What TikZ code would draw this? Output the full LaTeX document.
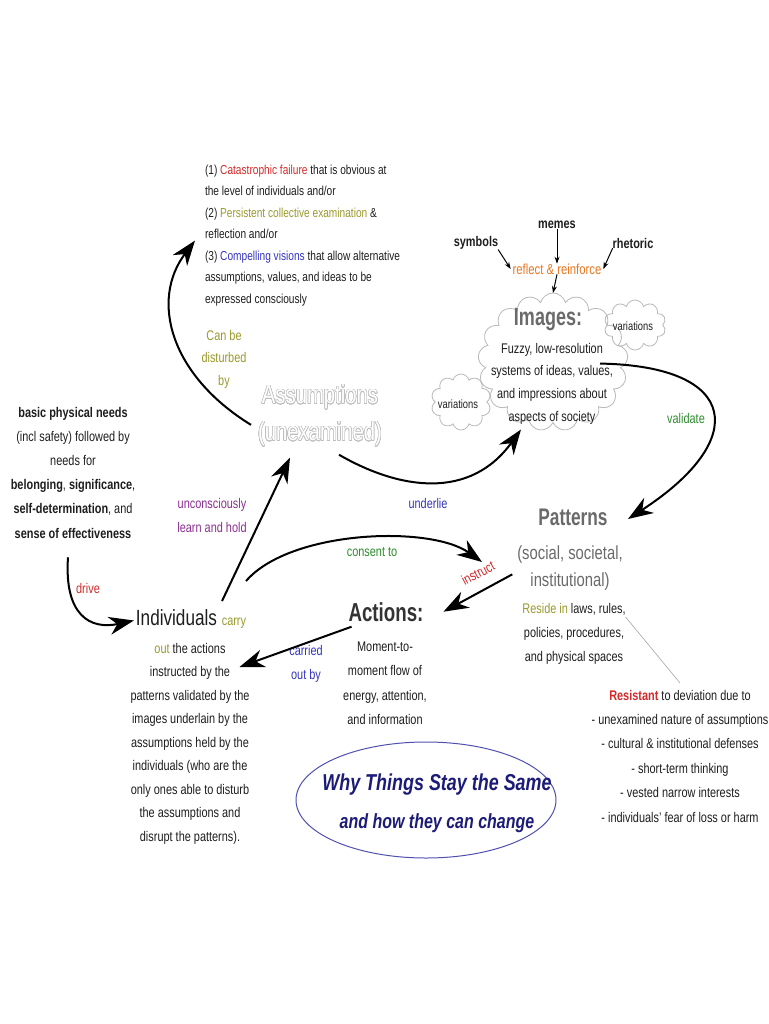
\documentclass[tikz,border=0pt]{standalone}
\usepackage{fontspec}
\setmainfont[FakeStretch=0.78]{Liberation Sans}
\newfontfamily\hfont[FakeStretch=0.72]{Liberation Sans}
\usepackage[copies]{contour}
\contourlength{0.5pt}
\contournumber{20}
\usetikzlibrary{arrows.meta,shapes.symbols,shapes.geometric}
\definecolor{tx}{HTML}{1E1E1E}
\definecolor{cred}{HTML}{D42A2A}
\definecolor{colive}{HTML}{9A9A2E}
\definecolor{cblue}{HTML}{3535C0}
\definecolor{cgreen}{HTML}{2E8B2E}
\definecolor{cpurple}{HTML}{8A3090}
\definecolor{corange}{HTML}{E87722}
\definecolor{hgray}{HTML}{6A6A6A}
\definecolor{navy}{HTML}{1C1C78}
\definecolor{ellc}{HTML}{5050B0}
\begin{document}
\begin{tikzpicture}[x=1pt,y=-1pt,
 every node/.style={inner sep=0pt,outer sep=0pt,text=tx},
 body/.style={font=\fontsize{14}{23.5}\selectfont,align=center},
 lab/.style={font=\fontsize{14}{24}\selectfont,align=center},
 bigarrow/.style={draw=black,line width=2pt,-{Stealth[length=25pt,width=18pt,inset=8pt]}},
 thinarrow/.style={draw=black,line width=1pt,-{Stealth[length=7pt,width=5pt]}},
 cloudshape/.style={cloud,cloud ignores aspect,draw=gray!55,line width=0.8pt},
 thinline/.style={draw=gray!70,line width=0.6pt},
]
\useasboundingbox (0,0) rectangle (768,1024);
\fill[white] (0,0) rectangle (768,1024);

% top text block
\node[anchor=north west,align=left,font=\fontsize{13}{21.5}\selectfont] (change) at (205,165)
 {(1) \textcolor{cred}{Catastrophic failure} that is obvious at\\
  the level of individuals and/or\\
  (2) \textcolor{colive}{Persistent collective examination} \&\\
  reflection and/or\\
  (3) \textcolor{cblue}{Compelling visions} that allow alternative\\
  assumptions, values, and ideas to be\\
  expressed consciously};

\node[font=\fontsize{14}{22.5}\selectfont,align=center,text=colive,anchor=north] (disturb) at (224,330) {Can be\\disturbed\\by};

\node[anchor=north,align=center,font=\fontsize{26}{37}\selectfont,text=white] (assump) at (320,385)
 {\contour{gray!50}{Assumptions}\\\contour{gray!50}{(unexamined)}};

% clouds
\node[cloudshape,cloud puffs=10,minimum width=62,minimum height=50] (varR) at (635,325) {};
\node[cloudshape,cloud puffs=10,minimum width=60,minimum height=56] (varL) at (461,402) {};
\node[cloudshape,cloud puffs=17,minimum width=150,minimum height=138] (images) at (553,362) {};
\node[font=\fontsize{12}{12}\selectfont] (varRt) at (633,326) {variations};
\node[font=\fontsize{12}{12}\selectfont] (varLt) at (458,404) {variations};
\node[anchor=base,font=\hfont\bfseries\fontsize{25}{25}\selectfont,text=hgray] (imgtitle) at (548,325) {Images:};
\node[font=\fontsize{14}{22.7}\selectfont,align=center,anchor=north] (imgtext) at (552,343)
 {Fuzzy, low-resolution\\systems of ideas, values,\\and impressions about\\aspects of society};

\node[font=\bfseries\fontsize{14}{14}\selectfont] (symbols) at (476,243) {symbols};
\node[font=\bfseries\fontsize{14}{14}\selectfont] (memes) at (557,225) {memes};
\node[font=\bfseries\fontsize{14}{14}\selectfont] (rhetoric) at (633,243) {rhetoric};
\node[font=\fontsize{14.5}{14.5}\selectfont,text=corange] (reflect) at (557,269) {reflect \& reinforce};

\draw[thinarrow] (symbols.south east) -- ([xshift=-2]reflect.west);
\draw[thinarrow] (memes.south) -- (reflect.north);
\draw[thinarrow] (rhetoric.south west) -- ([xshift=2]reflect.east);
\draw[thinarrow] (reflect.south) -- (images.north);

% patterns
\node[anchor=base,font=\hfont\bfseries\fontsize{24}{24}\selectfont,text=hgray] (patterns) at (573,525) {Patterns};
\node[anchor=north,align=center,font=\fontsize{19}{27}\selectfont,text=hgray] (patsub) at (570,546) {(social, societal,\\institutional)};
\node[body,anchor=north,font=\fontsize{14}{24}\selectfont] (reside) at (574,603)
 {\textcolor{colive}{Reside in} laws, rules,\\policies, procedures,\\and physical spaces};

\node[anchor=north,align=center,font=\fontsize{14}{24.4}\selectfont] (resist) at (680,690)
 {\textcolor{cred}{\bfseries Resistant} to deviation due to\\
  - unexamined nature of assumptions\\
  - cultural \& institutional defenses\\
  - short-term thinking\\
  - vested narrow interests\\
  - individuals' fear of loss or harm};
\draw[thinline] ([yshift=-14]reside.north east) -- ([yshift=7]resist.north);

% actions
\node[anchor=base,font=\hfont\bfseries\fontsize{26}{26}\selectfont,text=black!80] (actions) at (386,621) {Actions:};
\node[anchor=north,align=center,font=\fontsize{14}{24.3}\selectfont] (actbody) at (385,642)
 {Moment-to-\\moment flow of\\energy, attention,\\and information};

% individuals
\node[anchor=base] (indiv) at (191,625) {\fontsize{22}{22}\selectfont Individuals \textcolor{colive}{\fontsize{14}{14}\selectfont carry}};
\node[body,anchor=north] (indbody) at (190,643)
 {\textcolor{colive}{out} the actions\\instructed by the\\patterns validated by the\\images underlain by the\\assumptions held by the\\individuals (who are the\\only ones able to disturb\\the assumptions and\\disrupt the patterns).};

% needs
\node[anchor=north,align=center,font=\fontsize{14}{24.2}\selectfont] (needs) at (73,407)
 {\textbf{basic physical needs}\\(incl safety) followed by\\needs for\\\textbf{belonging}, \textbf{significance},\\\textbf{self-determination}, and\\\textbf{sense of effectiveness}};

% title ellipse
\node[ellipse,draw=ellc,line width=1pt,minimum width=260,minimum height=116] (titleell) at (426,800) {};
\node[font=\bfseries\itshape\fontsize{23}{23}\selectfont,text=navy] (t1) at (437,785) {Why Things Stay the Same};
\node[font=\bfseries\itshape\fontsize{20.5}{20.5}\selectfont,text=navy] (t2) at (437,823) {and how they can change};

% labels
\node[lab,text=cgreen] (lvalidate) at (686,418) {validate};
\node[lab,text=cblue] (lunderlie) at (428,503) {underlie};
\node[lab,text=cgreen] (lconsent) at (372,552) {consent to};
\node[lab,text=cred,rotate=28] (linstruct) at (478,573) {instruct};
\node[lab,text=cblue] (lcarried) at (306,664) {carried\\out by};
\node[lab,text=cpurple] (luncon) at (212,515) {unconsciously\\learn and hold};
\node[lab,text=cred] (ldrive) at (88,588) {drive};

% connectors
\draw[bigarrow] ([xshift=-7,yshift=-9]assump.west) .. controls (170,375) and (150,300) .. ([xshift=-10,yshift=-5]change.west);
\draw[bigarrow] ([xshift=-43,yshift=-8]assump.south east) .. controls (400,490) and (470,500) .. ([xshift=-32,yshift=-7]images.south);
\draw[bigarrow] ([xshift=48,yshift=20]imgtext.center) .. controls (740,366) and (750,440) .. ([xshift=55,yshift=6]patterns.base);
\draw[bigarrow] ([xshift=-5,yshift=-6]patsub.west) -- ([xshift=20]actions.east);
\draw[bigarrow] ([xshift=3,yshift=-15]actions.west) -- ([xshift=-10,yshift=-24]indbody.north east);
\draw[bigarrow] ([xshift=55,yshift=28]indiv.north) .. controls (290,530) and (430,525) .. ([xshift=-88,yshift=-16]patsub.north);
\draw[bigarrow] ([xshift=31,yshift=8]indiv.north) -- ([xshift=-30,yshift=-11]assump.south);
\draw[bigarrow] ([xshift=-5,yshift=-19]needs.south) .. controls (64,615) and (90,630) .. ([xshift=-2,yshift=-2]indiv.west);
\end{tikzpicture}
\end{document}
